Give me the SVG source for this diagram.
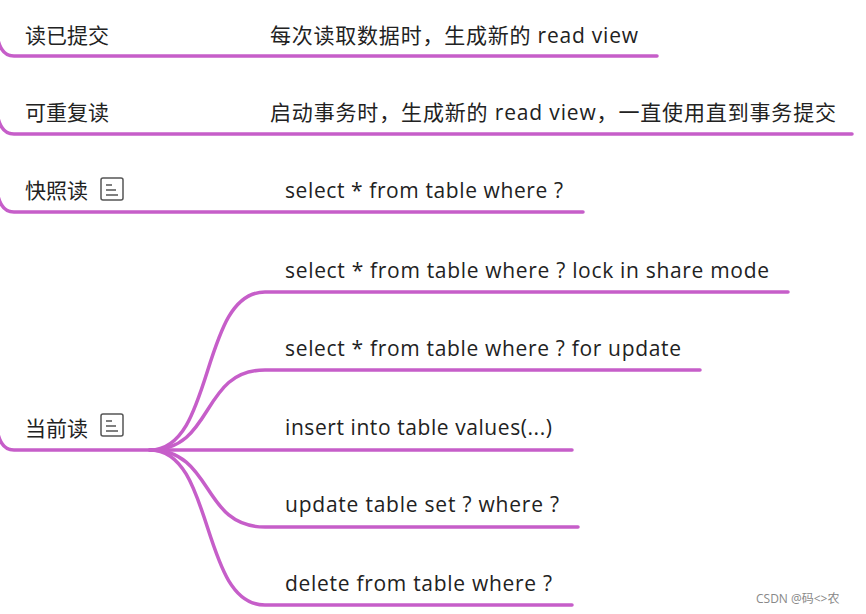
<svg xmlns="http://www.w3.org/2000/svg" width="866" height="614" viewBox="0 0 866 614">
<style>
text{font-family:"Open Sans","Noto Sans CJK SC",sans-serif;font-size:21px;fill:#222}
.l{fill:none;stroke:#c65ec9;stroke-width:3.5;stroke-linecap:round}
.ic{fill:none;stroke:#555;stroke-width:1.5}
</style>
<rect width="866" height="614" fill="#fff"/>
<g id="connectors">
<path class="l" d="M-2 40 Q2 56 14 56 L657 56"/>
<path class="l" d="M-2 118 Q2 134 14 134 L852 134"/>
<path class="l" d="M-2 196 Q2 212 14 212 L583 212"/>
<path class="l" d="M-2 434 Q2 450 14 450 L155 450"/>
<path class="l" d="M150 450 C215 450 200 292 265 292 L788 292"/>
<path class="l" d="M150 450 C215 450 200 370 265 370 L700 370"/>
<path class="l" d="M150 450 L572 450"/>
<path class="l" d="M150 450 C215 450 200 527 265 527 L578 527"/>
<path class="l" d="M150 450 C215 450 200 605 265 605 L572 605"/>
</g>
<g id="n1"><text x="25" y="43">读已提交</text><text x="270" y="43" textLength="368">每次读取数据时，生成新的 read view</text></g>
<g id="n2"><text x="25" y="120">可重复读</text><text x="270" y="120" textLength="566">启动事务时，生成新的 read view，一直使用直到事务提交</text></g>
<g id="n3"><text x="25" y="198">快照读</text>
<rect class="ic" x="101" y="178" width="22" height="22" rx="2"/><path class="ic" d="M106 185h6M106 190h10M106 195h12"/>
<text x="285" y="198" textLength="278">select * from table where ?</text></g>
<g id="n4"><text x="25" y="436">当前读</text>
<rect class="ic" x="101" y="414" width="22" height="22" rx="2"/><path class="ic" d="M106 421h6M106 426h10M106 431h12"/></g>
<g id="c1"><text x="285" y="278" textLength="484">select * from table where ? lock in share mode</text></g>
<g id="c2"><text x="285" y="356" textLength="396">select * from table where ? for update</text></g>
<g id="c3"><text x="285" y="435" textLength="267">insert into table values(...)</text></g>
<g id="c4"><text x="285" y="512" textLength="274">update table set ? where ?</text></g>
<g id="c5"><text x="285" y="591" textLength="267">delete from table where ?</text></g>
<text x="756" y="603" style="font-size:12px;fill:#888">CSDN @码&lt;&gt;农</text>
</svg>
